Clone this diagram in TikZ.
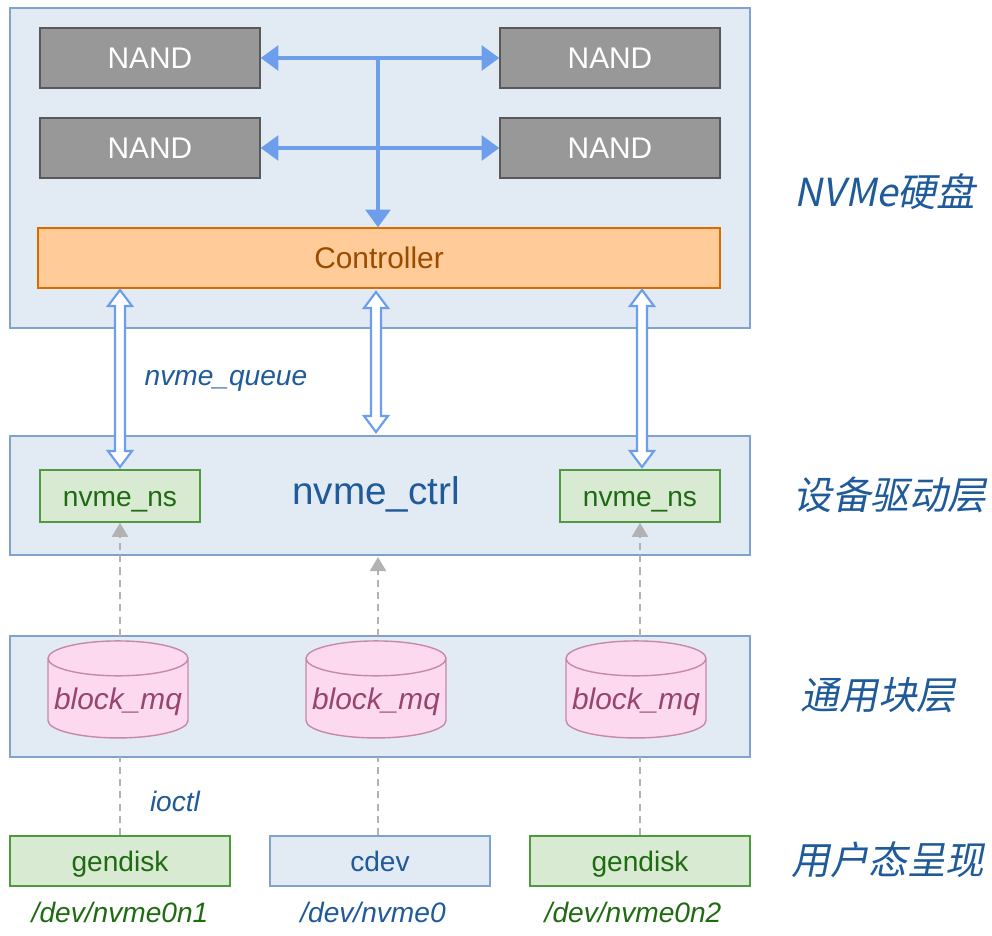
\documentclass[tikz,border=0pt]{standalone}
\usepackage{fontspec}
\setmainfont{Liberation Sans}
\newfontfamily\cjk[FakeSlant=0.2]{Noto Sans CJK SC}
\usetikzlibrary{shapes.geometric,arrows.meta}
\definecolor{pbg}{HTML}{E2EAF4}
\definecolor{pbd}{HTML}{7FA3CC}
\definecolor{arr}{HTML}{6D9EEB}
\definecolor{lbl}{HTML}{1F5A9A}
\definecolor{gfill}{HTML}{D9EAD3}
\definecolor{gbd}{HTML}{4E9A3E}
\definecolor{gtx}{HTML}{1E6B12}
\newcommand\holarrow[3]{% x, ytop, ybottom
 \draw[draw=arr,fill=white,line width=1.2pt] (#1,#2) -- (#1+12,#2+16) -- (#1+5,#2+16) -- (#1+5,#3-16) -- (#1+12,#3-16) -- (#1,#3) -- (#1-12,#3-16) -- (#1-5,#3-16) -- (#1-5,#2+16) -- (#1-12,#2+16) -- cycle;}
\tikzset{
 panel/.style={draw=pbd,fill=pbg,line width=1pt},
 nand/.style={draw=gray!70!black,fill=gray!85!black!70,text=white,font=\fontsize{17}{20}\selectfont,line width=0.8pt,text height=13pt,text depth=1pt},
 gbox/.style={draw=gbd,fill=gfill,text=gtx,font=\fontsize{16}{20}\selectfont,line width=0.8pt,text height=13pt,text depth=1pt},
 bbox/.style={draw=pbd,fill=pbg,text=lbl,font=\fontsize{16}{20}\selectfont,line width=0.8pt,text height=13pt,text depth=1pt},
 cyl/.style={cylinder,shape border rotate=90,aspect=0.25,draw=magenta!40!gray!80,fill=magenta!15!white,minimum width=140*0.02cm,minimum height=97*0.02cm,text=magenta!55!black,font=\itshape\fontsize{17}{20}\selectfont,line width=0.8pt},
 side/.style={text=lbl,font=\cjk\fontsize{22}{24}\selectfont},
 blarr/.style={draw=arr,line width=2pt,-{Triangle[length=10pt,width=14pt]}},
 dsh/.style={draw=gray!60,line width=1.5pt,dash pattern=on 4pt off 3pt},
 lab/.style={text=lbl,font=\itshape\fontsize{16}{20}\selectfont},
}
\begin{document}
\begin{tikzpicture}[x=0.02cm,y=-0.02cm]
\useasboundingbox (0,0) rectangle (992,936);
% top panel
\draw[panel] (10,8) rectangle (750,328);
\node[nand,minimum width=220*0.02cm,minimum height=60*0.02cm] (n1) at (150,58) {NAND};
\node[nand,minimum width=220*0.02cm,minimum height=60*0.02cm] (n2) at (610,58) {NAND};
\node[nand,minimum width=220*0.02cm,minimum height=60*0.02cm] (n3) at (150,148) {NAND};
\node[nand,minimum width=220*0.02cm,minimum height=60*0.02cm] (n4) at (610,148) {NAND};
\node[draw=orange!85!black,fill=orange!40!white,text=orange!60!black,minimum width=682*0.02cm,minimum height=60*0.02cm,font=\fontsize{17}{20}\selectfont,line width=0.8pt] (ctl) at (379,258) {Controller};
\draw[blarr,{Triangle[length=10pt,width=14pt]}-{Triangle[length=10pt,width=14pt]}] (n1) -- (n2);
\draw[blarr,{Triangle[length=10pt,width=14pt]}-{Triangle[length=10pt,width=14pt]}] (n3) -- (n4);
\coordinate (top) at (378,58);
\draw[blarr] (top) -- (ctl.north -| top);
% middle panel
\draw[panel] (10,436) rectangle (750,555);
\node[gbox,minimum width=160*0.02cm,minimum height=52*0.02cm] (ns1) at (120,496) {nvme\_ns};
\node[gbox,minimum width=160*0.02cm,minimum height=52*0.02cm] (ns2) at (640,496) {nvme\_ns};
\node[text=lbl,font=\fontsize{22}{26}\selectfont] (ctrl) at (376,494) {nvme\_ctrl};
\holarrow{120}{290}{467}
\holarrow{376}{292}{432}
\holarrow{642}{290}{467}
\node[lab] at (226,381) {nvme\_queue};
% block layer
\draw[panel] (10,636) rectangle (750,757);
\node[cyl] (b1) at (118,702) {block\_mq};
\node[cyl] (b2) at (376,702) {block\_mq};
\node[cyl] (b3) at (636,702) {block\_mq};
\coordinate (u1) at (120,636); \coordinate (u2) at (378,636); \coordinate (u3) at (640,636);
\coordinate (v2) at (378,557);
\draw[dsh,-{Triangle[length=8pt,width=9pt]}] (u1) -- (ns1.south);
\draw[dsh,-{Triangle[length=8pt,width=9pt]}] (u2) -- (v2);
\draw[dsh,-{Triangle[length=8pt,width=9pt]}] (u3) -- (ns2.south);
% user
\node[gbox,minimum width=220*0.02cm,minimum height=50*0.02cm] (g1) at (120,861) {gendisk};
\node[bbox,minimum width=220*0.02cm,minimum height=50*0.02cm] (cd) at (380,861) {cdev};
\node[gbox,minimum width=220*0.02cm,minimum height=50*0.02cm] (g2) at (640,861) {gendisk};
\coordinate (w1) at (120,757); \coordinate (w2) at (378,757); \coordinate (w3) at (640,757);
\draw[dsh] (g1.north) -- (w1);
\draw[dsh] (cd.north -| w2) -- (w2);
\draw[dsh] (g2.north) -- (w3);
\node[lab] at (175,801) {ioctl};
\node[text=gtx,font=\itshape\fontsize{16}{20}\selectfont] at (120,912) {/dev/nvme0n1};
\node[lab] at (373,912) {/dev/nvme0};
\node[text=gtx,font=\itshape\fontsize{16}{20}\selectfont] at (633,912) {/dev/nvme0n2};
% side labels
\node[side] at (885,192) {{\itshape NVMe}硬盘};
\node[side] at (890,495) {设备驱动层};
\node[side] at (878,695) {通用块层};
\node[side] at (888,860) {用户态呈现};
\end{tikzpicture}
\end{document}
